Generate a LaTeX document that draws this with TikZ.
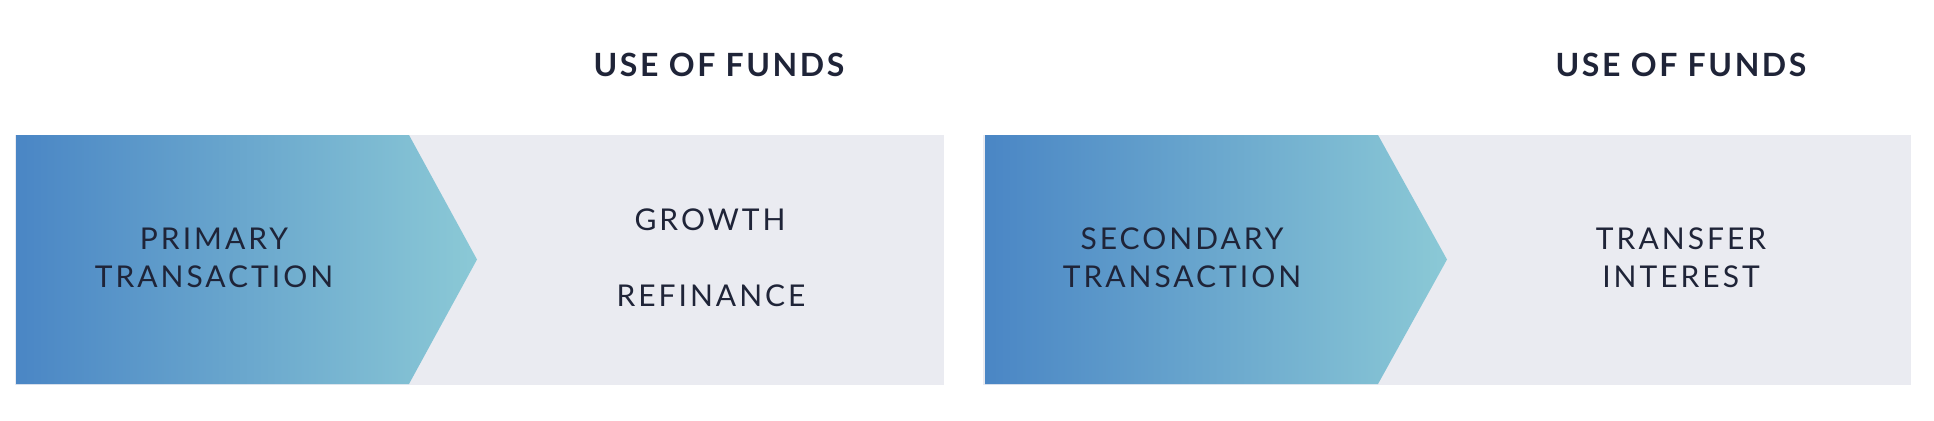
\documentclass[tikz,border=0pt]{standalone}
\usepackage{fontspec}
\setmainfont{Lato}
\newfontfamily\labfont[LetterSpace=10]{Lato}
\newfontfamily\headfont[LetterSpace=8]{Lato Bold}
\definecolor{txt}{HTML}{1F2438}
\definecolor{panel}{HTML}{EAEBF1}
\definecolor{blueL}{HTML}{4A86C5}
\definecolor{blueR}{HTML}{8BC9D6}
\tikzset{
  panelbox/.style={fill=panel, draw=none},
  arrowshape/.style={left color=blueL, right color=blueR, draw=none},
  lab/.style={text=txt, font=\labfont\fontsize{30}{38}\selectfont, align=center, inner sep=0pt},
  head/.style={text=txt, font=\headfont\fontsize{32}{38}\selectfont, inner sep=0pt, anchor=base}
}
\begin{document}
\begin{tikzpicture}[x=1pt,y=-1pt]
\useasboundingbox (0,0) rectangle (1934,420);
\fill[white] (0,0) rectangle (1934,420);
% left group
\path[panelbox] (15,134.5) rectangle (944,384.5);
\path[arrowshape] (16,135) -- (409,135) -- (477,259.5) -- (409,384) -- (16,384) -- cycle;
% right group
\path[panelbox] (983,134.5) rectangle (1911,384.5);
\path[arrowshape] (985,135) -- (1378,135) -- (1447,259.5) -- (1378,384) -- (985,384) -- cycle;
% headings
\node[head] (h1) at (719,76.7) {USE OF FUNDS};
\node[head] (h2) at (1681,76.7) {USE OF FUNDS};
% labels
\node[lab] (prim) at (214,257.5) {PRIMARY\\TRANSACTION};
\node[lab] (sec) at (1182,257.5) {SECONDARY\\TRANSACTION};
\node[lab] (grow) at (710,219.5) {GROWTH};
\node[lab] (refi) at (711,295.5) {REFINANCE};
\node[lab] (tran) at (1681,257.5) {TRANSFER\\INTEREST};
\end{tikzpicture}
\end{document}
